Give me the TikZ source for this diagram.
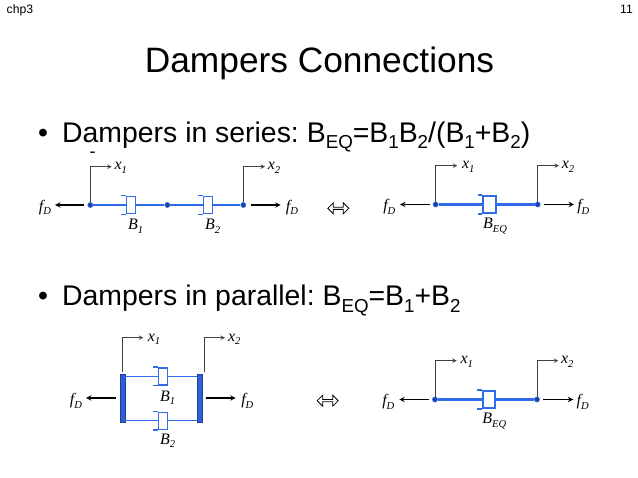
\documentclass[tikz,border=0pt]{standalone}
\usepackage{fontspec}
\setmainfont{Liberation Sans}
\newfontfamily\lblfont{Liberation Serif}
\usetikzlibrary{shapes.arrows}
\frenchspacing

\definecolor{wireblue}{HTML}{2F6BE8}
\definecolor{darkblue}{HTML}{1F3F9F}
\definecolor{barblue}{HTML}{2F5FD0}

\tikzstyle{wire} = [wireblue, line width=1.4pt]
\tikzstyle{thickwire} = [wireblue, line width=2.1pt]
\tikzstyle{damper} = [rectangle, draw=wireblue, line width=1.5pt, minimum width=9pt, minimum height=17pt, inner sep=0pt]
\tikzstyle{bigdamper} = [damper, line width=1.8pt, minimum width=12.4pt]
\tikzstyle{dot} = [circle, draw=wireblue, fill=darkblue, line width=.7pt, minimum size=5pt, inner sep=0pt]
\tikzstyle{bar} = [rectangle, draw=darkblue, fill=barblue, line width=.6pt, minimum width=4.6pt, minimum height=48pt, inner sep=0pt]
\tikzstyle{arrow} = [black, line width=1.4pt, ->, >=stealth]
\tikzstyle{bracket} = [black!75, line width=1pt, ->, >=stealth]
\tikzstyle{lbl} = [inner sep=0pt, font=\lblfont\fontsize{16}{18}\selectfont\itshape]
\tikzstyle{equiv} = [double arrow, draw=black, fill=white, line width=.8pt, minimum width=11pt, minimum height=21pt, double arrow head extend=1.6pt, inner sep=0pt]
\tikzstyle{big} = [anchor=base west, inner sep=0pt, font=\fontsize{28.4}{32}\selectfont]
\tikzstyle{small} = [inner sep=0pt, font=\fontsize{12.2}{14}\selectfont]

\newcommand{\lowtxt}[1]{\raisebox{-.22em}{\fontsize{.66em}{1em}\selectfont #1}}
\newcommand{\damperlips}[2]{%
  \draw[#2] (#1.north west) -- ++(-4.5,0) (#1.south west) -- ++(-4.5,0);}

\begin{document}
\begin{tikzpicture}[x=1pt,y=-1pt]
  \useasboundingbox (0,0) rectangle (638,478);

  % page texts
  \node (chp) [small, anchor=base west] at (6.5,14) {chp3};
  \node (page) [small, anchor=base east] at (633,14) {11};
  \node (title) [anchor=base, inner sep=0pt, font=\fontsize{35.3}{40}\selectfont] at (319.5,73) {Dampers Connections};
  \node (bull1) [big] at (38,142.5) {•};
  \node (line1) [big] at (62,142.5) {Dampers in series: B\lowtxt{EQ}=B\lowtxt{1}B\lowtxt{2}/(B\lowtxt{1}+B\lowtxt{2})};
  \node (bull2) [big] at (38,306) {•};
  \node (line2) [big] at (62,306) {Dampers in parallel: B\lowtxt{EQ}=B\lowtxt{1}+B\lowtxt{2}};
  \node (tick) [inner sep=0pt, font=\fontsize{18}{20}\selectfont] at (92.5,154.5) {-};

  % series, left
  \node (a1) [dot] at (90.3,205) {};
  \node (a2) [dot] at (167.3,205) {};
  \node (a3) [dot] at (243.3,205) {};
  \node (ad1) [damper] at (131.2,205) {};
  \node (ad2) [damper] at (207.8,205) {};
  \damperlips{ad1}{wire}
  \damperlips{ad2}{wire}
  \draw[wire] (a1) -- (ad1);
  \draw[wire] (ad1) -- (a2);
  \draw[wire] (a2) -- (ad2);
  \draw[wire] (ad2) -- (a3);
  \coordinate (ax1) at (111.7,166.7);
  \coordinate (ax2) at (265,166.7);
  \draw[bracket] (a1) |- (ax1);
  \draw[bracket] (a3) |- (ax2);
  \coordinate (afl0) at (84.3,205);
  \coordinate (afl1) at (55,205);
  \coordinate (afr0) at (250.7,205);
  \coordinate (afr1) at (280.7,205);
  \draw[arrow] (afl0) -- (afl1);
  \draw[arrow] (afr0) -- (afr1);
  \node (afl) [lbl] at (45,207.5) {f\lowtxt{D}};
  \node (afr) [lbl] at (292,207.5) {f\lowtxt{D}};
  \node (alx1) [lbl] at (120.7,168) {x\lowtxt{1}};
  \node (alx2) [lbl] at (274,168) {x\lowtxt{2}};
  \node (alb1) [lbl] at (135.7,226.5) {B\lowtxt{1}};
  \node (alb2) [lbl] at (212.7,226.5) {B\lowtxt{2}};
  \node (eq1) [equiv] at (338.3,208.3) {};

  % series, right
  \node (b1) [dot] at (435.7,204.5) {};
  \node (b2) [dot] at (537.7,204.5) {};
  \node (bd) [bigdamper] at (489.5,204.5) {};
  \damperlips{bd}{thickwire}
  \draw[thickwire] (b1) -- (bd);
  \draw[thickwire] (bd) -- (b2);
  \coordinate (bx1) at (457.3,165.7);
  \coordinate (bx2) at (559,165.7);
  \draw[bracket] (b1) |- (bx1);
  \draw[bracket] (b2) |- (bx2);
  \coordinate (bfl0) at (429.7,204.5);
  \coordinate (bfl1) at (400,204.5);
  \coordinate (bfr0) at (544,204.5);
  \coordinate (bfr1) at (574,204.5);
  \draw[arrow] (bfl0) -- (bfl1);
  \draw[arrow] (bfr0) -- (bfr1);
  \node (bfl) [lbl] at (389.3,206.7) {f\lowtxt{D}};
  \node (bfr) [lbl] at (583.3,206.7) {f\lowtxt{D}};
  \node (blx1) [lbl] at (468.3,167) {x\lowtxt{1}};
  \node (blx2) [lbl] at (568,167) {x\lowtxt{2}};
  \node (blb) [lbl] at (495,226) {B\lowtxt{EQ}};

  % parallel, left
  \node (cl) [bar] at (122.7,398.3) {};
  \node (cr) [bar] at (200,398.3) {};
  \node (cd1) [damper] at (162.8,376.3) {};
  \node (cd2) [damper] at (162.8,420.8) {};
  \damperlips{cd1}{wire}
  \damperlips{cd2}{wire}
  \draw[wire] (cl.east |- cd1) -- (cd1);
  \draw[wire] (cd1) -- (cd1 -| cr.west);
  \draw[wire] (cl.east |- cd2) -- (cd2);
  \draw[wire] (cd2) -- (cd2 -| cr.west);
  \coordinate (cs1) at (122.7,371.7);
  \coordinate (cs2) at (204,371.7);
  \coordinate (cx1) at (143.3,337.7);
  \coordinate (cx2) at (225,337.7);
  \draw[bracket] (cs1) |- (cx1);
  \draw[bracket] (cs2) |- (cx2);
  \coordinate (cfl0) at (116,398);
  \coordinate (cfl1) at (86,398);
  \coordinate (cfr0) at (205.7,398);
  \coordinate (cfr1) at (235.7,398);
  \draw[arrow] (cfl0) -- (cfl1);
  \draw[arrow] (cfr0) -- (cfr1);
  \node (cfl) [lbl] at (76,401) {f\lowtxt{D}};
  \node (cfr) [lbl] at (247.3,401) {f\lowtxt{D}};
  \node (clx1) [lbl] at (154,339.5) {x\lowtxt{1}};
  \node (clx2) [lbl] at (234.3,339.5) {x\lowtxt{2}};
  \node (clb1) [lbl] at (167.7,397.7) {B\lowtxt{1}};
  \node (clb2) [lbl] at (167.7,440.7) {B\lowtxt{2}};
  \node (eq2) [equiv] at (327.7,400.7) {};

  % parallel, right
  \node (d1) [dot] at (435,399.5) {};
  \node (d2) [dot] at (537,399.5) {};
  \node (dd) [bigdamper] at (488.9,399.5) {};
  \damperlips{dd}{thickwire}
  \draw[thickwire] (d1) -- (dd);
  \draw[thickwire] (dd) -- (d2);
  \coordinate (dx1) at (456.7,360.7);
  \coordinate (dx2) at (558.3,360.7);
  \draw[bracket] (d1) |- (dx1);
  \draw[bracket] (d2) |- (dx2);
  \coordinate (dfl0) at (429,399.5);
  \coordinate (dfl1) at (399.3,399.5);
  \coordinate (dfr0) at (543.3,399.5);
  \coordinate (dfr1) at (573.3,399.5);
  \draw[arrow] (dfl0) -- (dfl1);
  \draw[arrow] (dfr0) -- (dfr1);
  \node (dfl) [lbl] at (388.3,401.7) {f\lowtxt{D}};
  \node (dfr) [lbl] at (582.7,401.7) {f\lowtxt{D}};
  \node (dlx1) [lbl] at (466.7,362) {x\lowtxt{1}};
  \node (dlx2) [lbl] at (567.3,362) {x\lowtxt{2}};
  \node (dlb) [lbl] at (494.3,421) {B\lowtxt{EQ}};
\end{tikzpicture}
\end{document}
